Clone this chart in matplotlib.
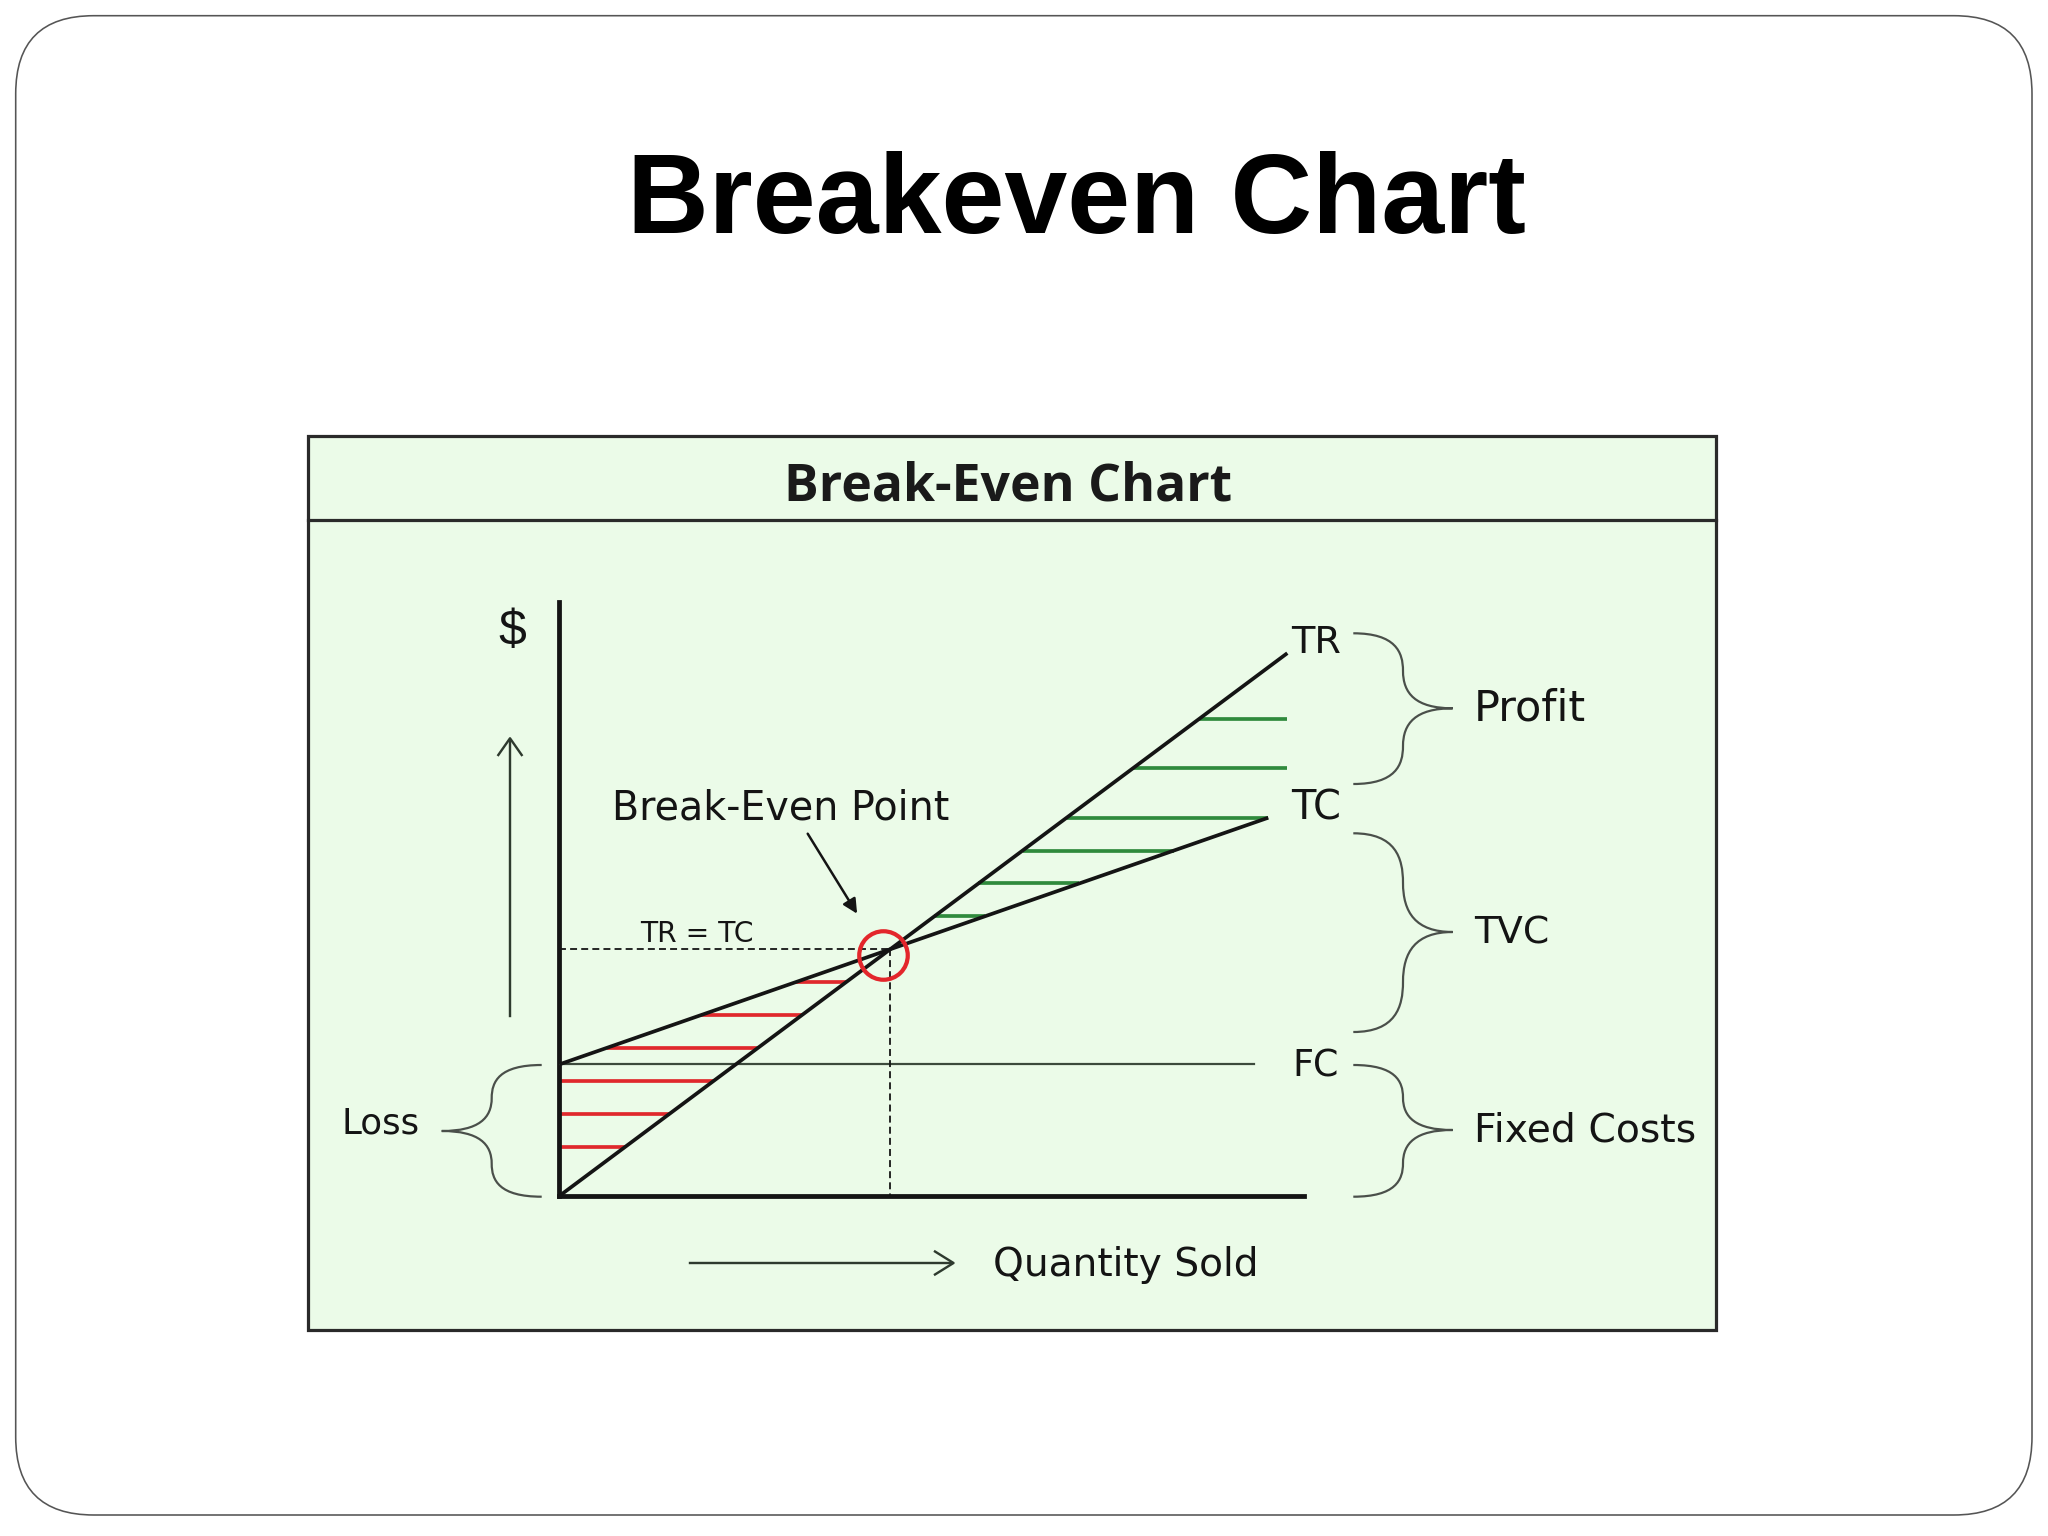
import matplotlib
matplotlib.use("Agg")
import matplotlib.pyplot as plt
from matplotlib.transforms import Affine2D
from matplotlib.patches import FancyBboxPatch, Rectangle, PathPatch
from matplotlib.path import Path
from matplotlib.lines import Line2D

# ---------------- data ----------------
price_per_unit = 18.75          # total revenue slope
variable_cost_per_unit = 8.75   # total cost slope
fixed_cost = 40.0
tr_quantity = [0.0, 8.8]
tc_quantity = [0.0, 8.57]
fc_quantity = [0.0, 8.4]
loss_levels = [15, 25, 35, 45, 55, 65]
profit_levels = [85, 95, 105, 115, 130, 145]
x_max = 9.0
y_max = 180.6
circle_center = (3.91, 73.2)

title = "Breakeven Chart"
header = "Break-Even Chart"

# ---------------- figure ----------------
W, H = 2048, 1536
plt.rcParams['lines.scale_dashes'] = False
fig = plt.figure(figsize=(W / 100, H / 100), dpi=100)
fig.patch.set_facecolor("white")
PX = Affine2D().scale(1.0 / W, -1.0 / H).translate(0, 1) + fig.transFigure


def pt(px):
    return px * 0.72


BG = "#ebfbe8"
INK = "#141414"

# outer rounded slide border
fig.add_artist(FancyBboxPatch((15.7, 15.7), 2032 - 15.7, 1515 - 15.7,
                              boxstyle="round,pad=0,rounding_size=78",
                              transform=PX, facecolor="white", edgecolor="#555555",
                              linewidth=pt(1.6), zorder=-10))

# chart box
fig.add_artist(Rectangle((308.3, 436.0), 1716.3 - 308.3, 1329.5 - 436.0, transform=PX,
                         facecolor=BG, edgecolor="#2a2a2a", linewidth=pt(3.2), zorder=-5))
fig.add_artist(Line2D([308.3, 1716.3], [519.5, 519.5], transform=PX,
                      color="#2a2a2a", linewidth=pt(3.2), zorder=-4))

renderer = fig.canvas.get_renderer()


def fit_text(x, y, s, target_w, ha="left", family="DejaVu Sans", weight="normal",
             size=28, color=INK, **kw):
    t = fig.text(x, y, s, transform=PX, ha=ha, va="baseline", family=family,
                 weight=weight, fontsize=size, color=color, zorder=10,
                 parse_math=False, **kw)
    w = t.get_window_extent(renderer).width
    t.set_fontsize(size * target_w / w)
    return t


# titles
fit_text(1076.2, 232.5, title, 898.6, ha="center", family="Liberation Sans",
         weight="bold", size=88, color="black")
fit_text(1007.7, 500.5, header, 448.0, ha="center", family="Open Sans",
         weight="bold", size=40, color="#1a1a1a")

# ---------------- data axes ----------------
ox, oy = 559.3, 1196.0
sx, sy = 82.73, 3.29
ax = fig.add_axes([ox / W, (H - oy) / H, x_max * sx / W, y_max * sy / H])
ax.set_xlim(0, x_max)
ax.set_ylim(0, y_max)
ax.patch.set_alpha(0)
for side in ("top", "right"):
    ax.spines[side].set_visible(False)
for side in ("left", "bottom"):
    ax.spines[side].set_linewidth(pt(4.8))
    ax.spines[side].set_color(INK)
ax.set_xticks([])
ax.set_yticks([])


def tr(q):
    return price_per_unit * q


def tc(q):
    return fixed_cost + variable_cost_per_unit * q


# hatching: loss (red) and profit (green)
for lvl in loss_levels:
    q_left = max(0.0, (lvl - fixed_cost) / variable_cost_per_unit)
    q_right = lvl / price_per_unit
    ax.plot([q_left, q_right], [lvl, lvl], color="#e0282c", lw=pt(3.7),
            solid_capstyle="butt", zorder=2)
for lvl in profit_levels:
    q_left = lvl / price_per_unit
    q_right = min((lvl - fixed_cost) / variable_cost_per_unit, tr_quantity[1])
    ax.plot([q_left, q_right], [lvl, lvl], color="#2f8a3c", lw=pt(3.7),
            solid_capstyle="butt", zorder=2)

# fixed cost line
ax.plot(fc_quantity, [fixed_cost, fixed_cost], color="#3c4a3c", lw=pt(2.2), zorder=3)
# total revenue and total cost lines
ax.plot(tr_quantity, [tr(q) for q in tr_quantity], color=INK, lw=pt(3.7), zorder=4,
        solid_capstyle="butt", clip_on=False)
ax.plot(tc_quantity, [tc(q) for q in tc_quantity], color=INK, lw=pt(3.7), zorder=4,
        solid_capstyle="butt", clip_on=False)

# break-even point
be_q = fixed_cost / (price_per_unit - variable_cost_per_unit)
be_v = tr(be_q)
ax.plot([0, be_q], [be_v, be_v], color=INK, lw=pt(1.8), dashes=(5, 3), zorder=3)
ax.plot([be_q, be_q], [be_v, 0], color=INK, lw=pt(1.8), dashes=(5, 3), zorder=3)
ax.plot([circle_center[0]], [circle_center[1]], marker="o", ms=pt(48.5),
        mfc="none", mec="#e3262b", mew=pt(4.2), zorder=6)

# ---------------- annotations ----------------
ARROW = "#2e3a2e"
fig.add_artist(Line2D([510, 510], [1016, 741], transform=PX, color=ARROW, lw=pt(2.4)))
fig.add_artist(Line2D([498.3, 510, 521.7], [755, 738.3, 755], transform=PX,
                      color=ARROW, lw=pt(2.4)))
fig.add_artist(Line2D([689.6, 951], [1263, 1263], transform=PX, color=ARROW, lw=pt(2.4)))
fig.add_artist(Line2D([935, 953.5, 935], [1251.5, 1263, 1274.5], transform=PX,
                      color=ARROW, lw=pt(2.4)))

fig.text(512.5, 644.8, "$", transform=PX, ha="center", va="baseline",
         family="Liberation Sans", fontsize=pt(50), color=INK, parse_math=False)

ax.annotate("", xy=(857.1, 913.7), xycoords=PX, xytext=(807.7, 833.7), textcoords=PX,
            arrowprops=dict(arrowstyle="-|>", color=INK, lw=pt(2.5),
                            mutation_scale=pt(30), shrinkA=0, shrinkB=0))

fit_text(612.0, 819.6, "Break-Even Point", 337.0)
fit_text(640.0, 941.5, "TR = TC", 113.6)
fit_text(1290.7, 653.3, "TR", 50.0)
fit_text(1290.7, 819.3, "TC", 50.0)
fit_text(1292.7, 1076.7, "FC", 46.6)
fit_text(1474.0, 720.7, "Profit", 112.0)
fit_text(1474.0, 943.3, "TVC", 75.3)
fit_text(1474.0, 1141.7, "Fixed Costs", 222.7)
fit_text(341.7, 1133.3, "Loss", 78.3)
fit_text(993.0, 1276.5, "Quantity Sold", 265.0)


def brace(x0, y_top, y_bot, xt, yt):
    xm = (x0 + xt) / 2.0
    h1 = yt - y_top
    h2 = y_bot - yt
    verts = [
        (x0, y_top),
        (x0 + 0.85 * (xm - x0), y_top), (xm, y_top + 0.25 * h1), (xm, y_top + 0.5 * h1),
        (xm, y_top + 0.8 * h1), (xm + 0.25 * (xt - xm), yt), (xt, yt),
        (xm + 0.25 * (xt - xm), yt), (xm, y_bot - 0.8 * h2), (xm, y_bot - 0.5 * h2),
        (xm, y_bot - 0.25 * h2), (x0 + 0.85 * (xm - x0), y_bot), (x0, y_bot),
    ]
    codes = [Path.MOVETO] + [Path.CURVE4] * 12
    fig.add_artist(PathPatch(Path(verts, codes), transform=PX, facecolor="none",
                             edgecolor="#4a4f4a", lw=pt(2.2), zorder=5))


brace(1353.3, 633.3, 784.0, 1452.7, 708.3)
brace(1353.3, 833.3, 1032.0, 1452.7, 932.0)
brace(1353.3, 1065.0, 1196.7, 1452.7, 1130.0)
brace(541.7, 1065.0, 1196.7, 441.7, 1131.0)

fig.savefig("out.png", dpi=100, facecolor="white")
